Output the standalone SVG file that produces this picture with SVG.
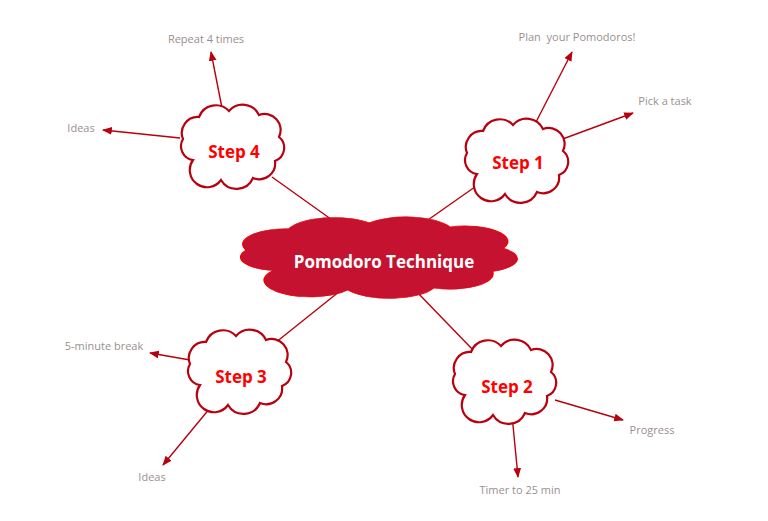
<svg xmlns="http://www.w3.org/2000/svg" width="768" height="521" viewBox="0 0 768 521">
<style>
.c{fill:#fff;stroke:#b8000f;stroke-width:2.2}
.m{fill:#c41230;stroke:#ee0000;stroke-width:1.5}
.t{font-family:"Open Sans","Noto Sans",sans-serif;font-weight:bold;font-size:17px;fill:#f00;text-anchor:middle}
.l{font-family:"Open Sans","Noto Sans",sans-serif;font-size:11px;fill:#9a8f8f;text-anchor:middle}
.k{stroke:#b8000f;stroke-width:1.4;fill:none}
</style>
<defs>
<path id="cl" d="M-40,15 A14,14 0 0 1 -50,-6 A16,16 0 0 1 -34,-28 A18,18 0 0 1 -4,-34 A18,18 0 0 1 26,-30 A16,16 0 0 1 46,-8 A14,14 0 0 1 42,16 A16,16 0 0 1 20,33 A18,18 0 0 1 -12,35 A16,16 0 0 1 -40,15 Z"/>
<marker id="a" viewBox="0 0 10 10" refX="9" refY="5" markerWidth="7" markerHeight="7" orient="auto"><path d="M0,1 L10,5 L0,9 Z" fill="#b8000f"/></marker>
</defs>
<g id="connectors">
<line class="k" x1="335" y1="222" x2="272" y2="177"/>
<line class="k" x1="425" y1="222" x2="482" y2="182"/>
<line class="k" x1="345" y1="287" x2="275" y2="343"/>
<line class="k" x1="415" y1="290" x2="475" y2="352"/>
<line class="k" x1="222" y1="108" x2="211" y2="52" marker-end="url(#a)"/>
<line class="k" x1="180" y1="138" x2="103" y2="130" marker-end="url(#a)"/>
<line class="k" x1="535" y1="124" x2="572" y2="52" marker-end="url(#a)"/>
<line class="k" x1="560" y1="140" x2="633" y2="113" marker-end="url(#a)"/>
<line class="k" x1="190" y1="360" x2="150" y2="353" marker-end="url(#a)"/>
<line class="k" x1="215" y1="402" x2="163" y2="465" marker-end="url(#a)"/>
<line class="k" x1="555" y1="400" x2="623" y2="420" marker-end="url(#a)"/>
<line class="k" x1="512" y1="415" x2="518" y2="477" marker-end="url(#a)"/>
</g>
<g id="center"><use href="#cl" class="m" transform="translate(380,256) scale(2.68,0.97)" style="stroke-width:0.6"/><text class="t" x="384" y="268" style="fill:#fff">Pomodoro Technique</text></g>
<g id="step4"><use href="#cl" class="c" transform="translate(233,145)" /><text class="t" x="234" y="158">Step 4</text></g>
<g id="step1"><use href="#cl" class="c" transform="translate(517,159)"/><text class="t" x="518" y="169">Step 1</text></g>
<g id="step3"><use href="#cl" class="c" transform="translate(240,370)"/><text class="t" x="241" y="383">Step 3</text></g>
<g id="step2"><use href="#cl" class="c" transform="translate(505,380)"/><text class="t" x="507" y="393">Step 2</text></g>
<g id="labels">
<text class="l" x="206" y="43">Repeat 4 times</text>
<text class="l" x="81" y="132">Ideas</text>
<text class="l" x="577" y="41" style="white-space:pre">Plan  your Pomodoros!</text>
<text class="l" x="665" y="105">Pick a task</text>
<text class="l" x="104" y="350">5-minute break</text>
<text class="l" x="152" y="481">Ideas</text>
<text class="l" x="652" y="434">Progress</text>
<text class="l" x="520" y="494">Timer to 25 min</text>
</g>
</svg>
